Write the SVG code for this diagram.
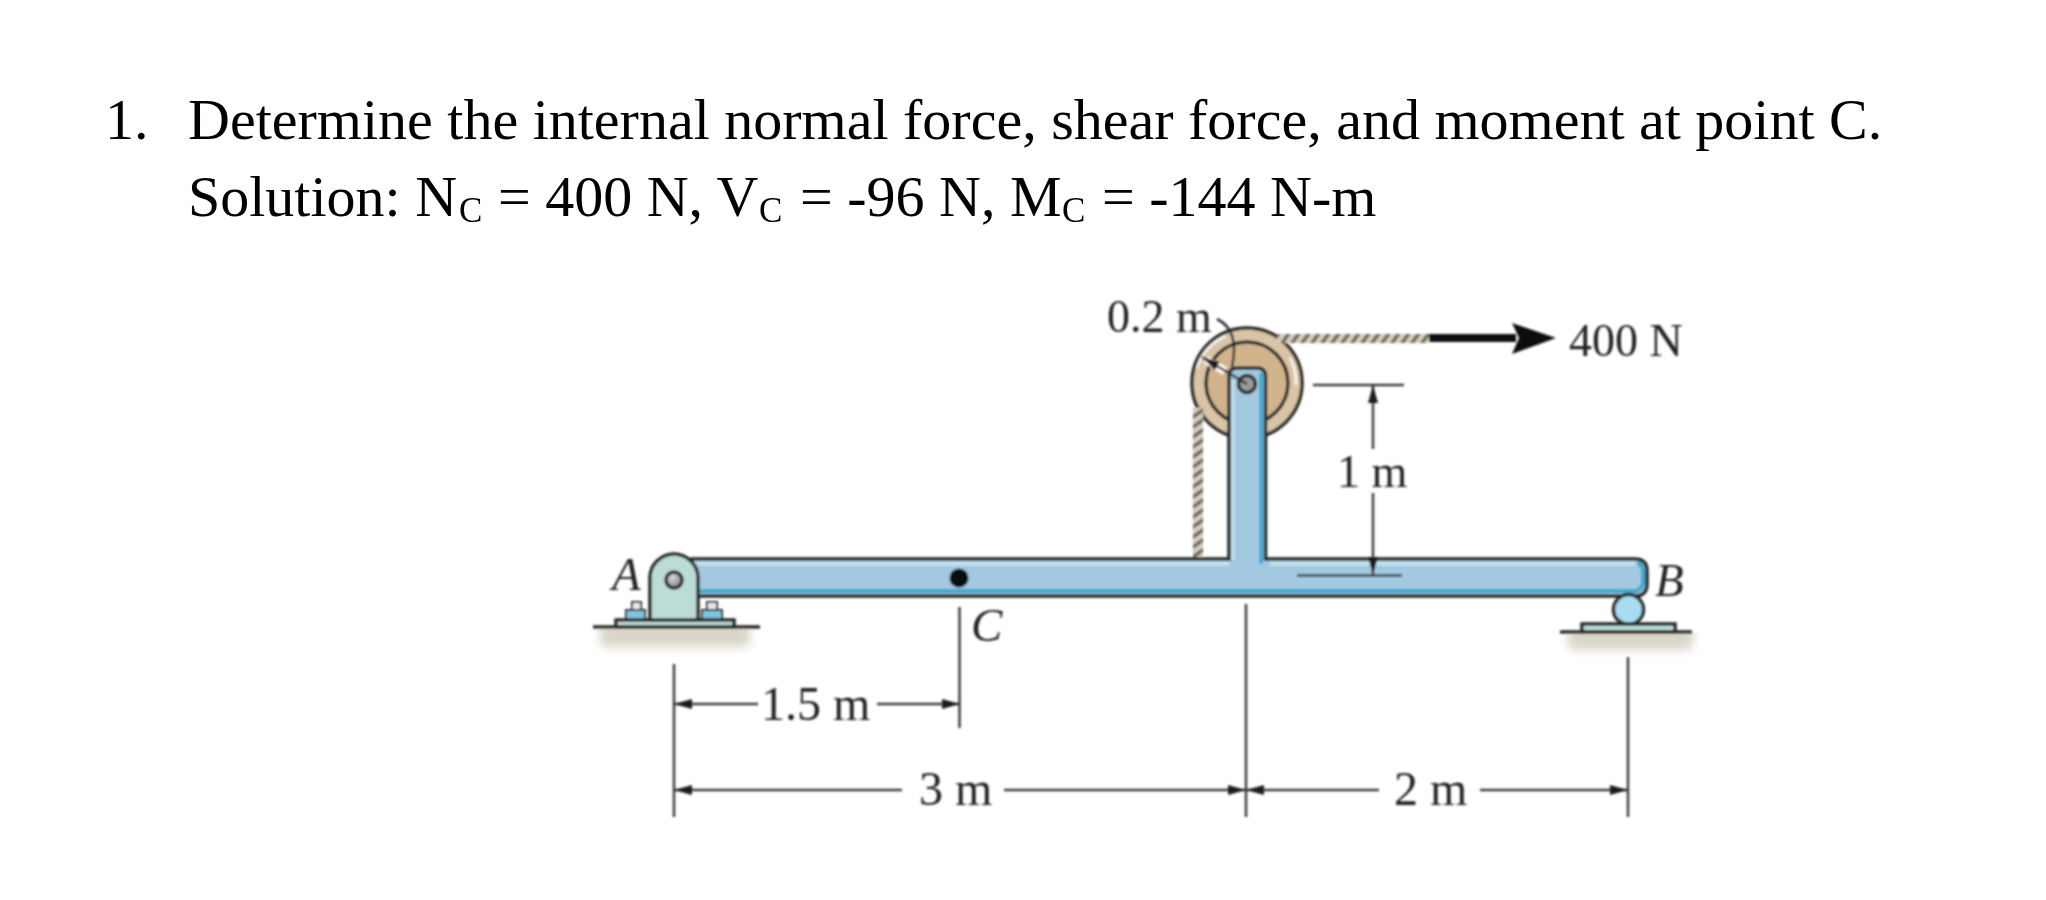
<svg xmlns="http://www.w3.org/2000/svg" width="2046" height="900" viewBox="0 0 2046 900">
<style>
.t{font-family:"Liberation Serif","Times New Roman",serif;fill:#000}
.h{font-size:58px}
.sub{font-size:35px}
.d{font-family:"Liberation Serif","Times New Roman",serif;font-size:46px;fill:#222}
.w{font-size:48px}
.i{font-style:italic;font-size:47px}
.o{stroke:#2a2a2a;stroke-width:3.5}
.n{stroke:#333;stroke-width:2}
.dim{stroke:#3c3c3c;stroke-width:2.5;fill:none}
</style>
<defs>
<marker id="ah" viewBox="0 0 18 10" refX="18" refY="5" markerWidth="18" markerHeight="11" orient="auto-start-reverse" markerUnits="userSpaceOnUse"><path d="M0 0L18 5L0 10z" fill="#1c1c1c"/></marker>
<filter id="soft" x="-2%" y="-2%" width="104%" height="104%"><feGaussianBlur stdDeviation="0.5"/></filter>
<filter id="softer" x="-2%" y="-2%" width="104%" height="104%"><feGaussianBlur stdDeviation="0.9"/></filter>
<filter id="shade" x="-20%" y="-100%" width="140%" height="300%"><feGaussianBlur stdDeviation="5"/></filter>
<clipPath id="below-a"><rect x="570" y="627" width="210" height="50"/></clipPath>
<clipPath id="below-b"><rect x="1540" y="632" width="180" height="50"/></clipPath>
<radialGradient id="pinfill" cx="0.4" cy="0.35" r="0.7"><stop offset="0" stop-color="#d8d8d8"/><stop offset="1" stop-color="#808080"/></radialGradient>
<pattern id="rope" width="10" height="9" patternUnits="userSpaceOnUse" patternTransform="skewX(-35)"><rect width="10" height="9" fill="#d6cfc0"/><rect width="4.5" height="9" fill="#6f695f"/></pattern>
<pattern id="ropev" width="10" height="10" patternUnits="userSpaceOnUse" patternTransform="skewY(-35)"><rect width="10" height="10" fill="#d6cfc0"/><rect width="10" height="4.5" fill="#6f695f"/></pattern>
</defs>
<g id="title" filter="url(#soft)">
<text class="t h" x="105" y="139">1.</text>
<text class="t h" x="188" y="139">Determine the internal normal force, shear force, and moment at point C.</text>
<text class="t h" x="188" y="216">Solution: N<tspan class="sub" x="459" y="222">C</tspan><tspan x="498" y="216">= 400 N, V</tspan><tspan class="sub" x="759" y="222">C</tspan><tspan x="800" y="216">= -96 N, M</tspan><tspan class="sub" x="1062" y="222">C</tspan><tspan x="1102" y="216">= -144 N-m</tspan></text>
</g>
<g filter="url(#softer)">
<g id="support-A">
<g clip-path="url(#below-a)"><rect x="600" y="615" width="150" height="32" rx="6" fill="#d9d5c9" filter="url(#shade)"/></g>
<rect x="626" y="610" width="19" height="10" fill="#7fc4dc" class="n"/>
<rect x="632" y="602" width="9" height="8" fill="#e4e8ea" class="n"/>
<rect x="702" y="610" width="20" height="10" fill="#7fc4dc" class="n"/>
<rect x="707" y="602" width="10" height="8" fill="#e4e8ea" class="n"/>
<rect x="616" y="620" width="118" height="7" fill="#bcdcd8" class="o"/>
<line x1="593" y1="627" x2="760" y2="627" class="o"/>
</g>
<g id="pulley">
<circle cx="1247" cy="383" r="55" fill="#dac4a6" class="o"/>
<path d="M1197 368A52 52 0 0 1 1226 336M1290 358A52 52 0 0 1 1296 385" fill="none" stroke="#fff" stroke-width="2"/>
<circle cx="1247" cy="383" r="41" fill="#d2b48c" class="o"/>
</g>
<g id="rope-cable">
<rect x="1277" y="334" width="152" height="9" fill="url(#rope)"/>
<rect x="1193" y="408" width="10" height="150" fill="url(#ropev)"/>
</g>
<g id="beam">
<path d="M1229 559V376Q1229 368 1237 368H1257Q1265.500 368 1265.500 376V559H1635Q1647 559 1647 571V584Q1647 596 1635 596H680V559Z" fill="#a2c9e0"/>
<path d="M690 563.500H1229M1270 563.500H1635" fill="none" stroke="#c4e2ef" stroke-width="4"/>
<path d="M1233 380V560" fill="none" stroke="#c4e2ef" stroke-width="3"/>
<path d="M1261 373V564" fill="none" stroke="#2fa8cc" stroke-width="3.500"/>
<path d="M690 591H1636Q1643 589 1643 581V572Q1643 566 1638 563" fill="none" stroke="#3aa9cf" stroke-width="4"/>
<path d="M690 559H1229V376Q1229 368 1237 368H1257Q1265.500 368 1265.500 376V559H1635Q1647 559 1647 571V584Q1647 596 1635 596H690" fill="none" class="o"/>
</g>
<g id="clevis-A">
<path d="M650 620V578A24 24 0 0 1 698 578V620Z" fill="#bcdcd8" class="o"/>
<circle cx="674" cy="580" r="8" fill="url(#pinfill)" class="o"/>
</g>
<g id="pin">
<circle cx="1247" cy="384" r="8.500" fill="#9a9a9a" class="o"/>
</g>
<g id="point-C"><circle cx="959" cy="578" r="9.500" fill="#111"/></g>
<g id="support-B">
<g clip-path="url(#below-b)"><rect x="1568" y="620" width="125" height="30" rx="6" fill="#d9d5c9" filter="url(#shade)"/></g>
<circle cx="1628.500" cy="609.500" r="15" fill="#a8dcf2" class="o"/>
<rect x="1582" y="624" width="93" height="8" fill="#bcdcd8" class="o"/>
<line x1="1560" y1="632" x2="1692" y2="632" class="o"/>
</g>
<g id="connectors">
<path d="M1429 338H1516" stroke="#111" stroke-width="8"/>
<path d="M1512 323L1556 338L1512 354L1519 338Z" fill="#111"/>
<path d="M1217 319Q1240 330 1232 367" stroke="#333" stroke-width="2.500" fill="none"/>
<path d="M1225 371L1206 360" stroke="#fff" stroke-width="8" fill="none"/>
<path d="M1247 384L1202 357" stroke="#333" stroke-width="2.500" marker-end="url(#ah)" fill="none"/>
<line x1="1313" y1="385" x2="1404" y2="385" class="dim"/>
<line x1="1297" y1="575.500" x2="1402" y2="575.500" class="dim"/>
<line x1="1373" y1="449" x2="1373" y2="385" class="dim" marker-end="url(#ah)"/>
<line x1="1373" y1="493" x2="1373" y2="575" class="dim" marker-end="url(#ah)"/>
<line x1="674" y1="664" x2="674" y2="817" class="dim"/>
<line x1="959.500" y1="607" x2="959.500" y2="728" class="dim"/>
<line x1="1246" y1="604" x2="1246" y2="817" class="dim"/>
<line x1="1628" y1="657" x2="1628" y2="817" class="dim"/>
<line x1="758" y1="704" x2="674" y2="704" class="dim" marker-end="url(#ah)"/>
<line x1="877" y1="704" x2="960" y2="704" class="dim" marker-end="url(#ah)"/>
<line x1="902" y1="790" x2="674" y2="790" class="dim" marker-end="url(#ah)"/>
<line x1="1004" y1="790" x2="1246" y2="790" class="dim" marker-end="url(#ah)"/>
<line x1="1379" y1="790" x2="1246" y2="790" class="dim" marker-end="url(#ah)"/>
<line x1="1480" y1="790" x2="1628" y2="790" class="dim" marker-end="url(#ah)"/>
</g>
<g id="labels">
<text class="d" x="1107" y="332">0.2 m</text>
<text class="d" x="1569" y="356">400 N</text>
<text class="d" x="1337" y="487">1 m</text>
<text class="d w" x="761" y="720">1.5 m</text>
<text class="d w" x="919" y="805">3 m</text>
<text class="d w" x="1394" y="805">2 m</text>
<text class="d i" x="612" y="590">A</text>
<text class="d i" x="1655" y="596">B</text>
<text class="d i" x="971" y="641">C</text>
</g>
</g>
</svg>
